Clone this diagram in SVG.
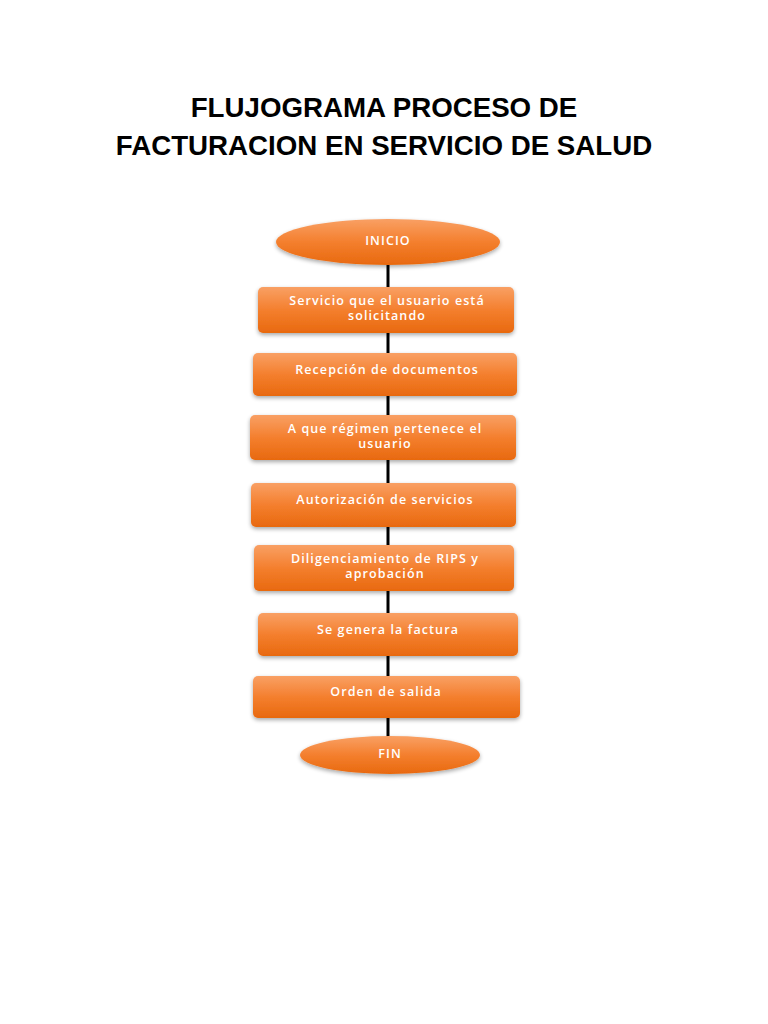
<svg xmlns="http://www.w3.org/2000/svg" width="768" height="1024" viewBox="0 0 768 1024">
<defs>
<linearGradient id="og" x1="0" y1="0" x2="0" y2="1">
<stop offset="0" stop-color="#f9a064"/>
<stop offset="0.5" stop-color="#f47f2e"/>
<stop offset="1" stop-color="#e8690f"/>
</linearGradient>
<filter id="sh" x="-10%" y="-20%" width="120%" height="150%">
<feGaussianBlur in="SourceAlpha" stdDeviation="2"/>
<feOffset dx="0" dy="2" result="b"/>
<feComponentTransfer><feFuncA type="linear" slope="0.35"/></feComponentTransfer>
<feMerge><feMergeNode/><feMergeNode in="SourceGraphic"/></feMerge>
</filter>
</defs>
<style>
.title{font-family:"Liberation Sans",Arial,sans-serif;font-weight:bold;font-size:27.7px;fill:#000;text-anchor:middle}
.node{fill:url(#og);filter:url(#sh)}
.lbl{font-family:"Open Sans","Liberation Sans",sans-serif;font-weight:600;font-size:12.5px;fill:#fff;text-anchor:middle;letter-spacing:1.1px}
.conn line{stroke:#000;stroke-width:3}
</style>
<rect width="768" height="1024" fill="#fff"/>
<text class="title" x="384" y="117">FLUJOGRAMA PROCESO DE</text>
<text class="title" x="384" y="155">FACTURACION EN SERVICIO DE SALUD</text>
<g class="conn">
<line x1="388" y1="265" x2="388" y2="287"/>
<line x1="388" y1="333" x2="388" y2="353"/>
<line x1="388" y1="396" x2="388" y2="415"/>
<line x1="388" y1="460" x2="388" y2="483"/>
<line x1="388" y1="527" x2="388" y2="545"/>
<line x1="388" y1="591" x2="388" y2="613"/>
<line x1="388" y1="656" x2="388" y2="676"/>
<line x1="388" y1="718" x2="388" y2="737"/>
</g>
<g id="inicio"><ellipse class="node" cx="388" cy="242" rx="112" ry="23"/><text class="lbl" x="388" y="245">INICIO</text></g>
<g id="n1"><rect class="node" x="258" y="287" width="256" height="46" rx="5"/><text class="lbl" x="387" y="305">Servicio que el usuario está</text><text class="lbl" x="387" y="320">solicitando</text></g>
<g id="n2"><rect class="node" x="253" y="353" width="264" height="43" rx="5"/><text class="lbl" x="387" y="374">Recepción de documentos</text></g>
<g id="n3"><rect class="node" x="250" y="415" width="266" height="45" rx="5"/><text class="lbl" x="385" y="433">A que régimen pertenece el</text><text class="lbl" x="385" y="448">usuario</text></g>
<g id="n4"><rect class="node" x="251" y="483" width="265" height="44" rx="5"/><text class="lbl" x="385" y="504">Autorización de servicios</text></g>
<g id="n5"><rect class="node" x="254" y="545" width="260" height="46" rx="5"/><text class="lbl" x="385" y="563">Diligenciamiento de RIPS y</text><text class="lbl" x="385" y="578">aprobación</text></g>
<g id="n6"><rect class="node" x="258" y="613" width="260" height="43" rx="5"/><text class="lbl" x="388" y="634">Se genera la factura</text></g>
<g id="n7"><rect class="node" x="253" y="676" width="267" height="42" rx="5"/><text class="lbl" x="386" y="696">Orden de salida</text></g>
<g id="fin"><ellipse class="node" cx="390" cy="755" rx="90" ry="19"/><text class="lbl" x="390" y="758">FIN</text></g>
</svg>
